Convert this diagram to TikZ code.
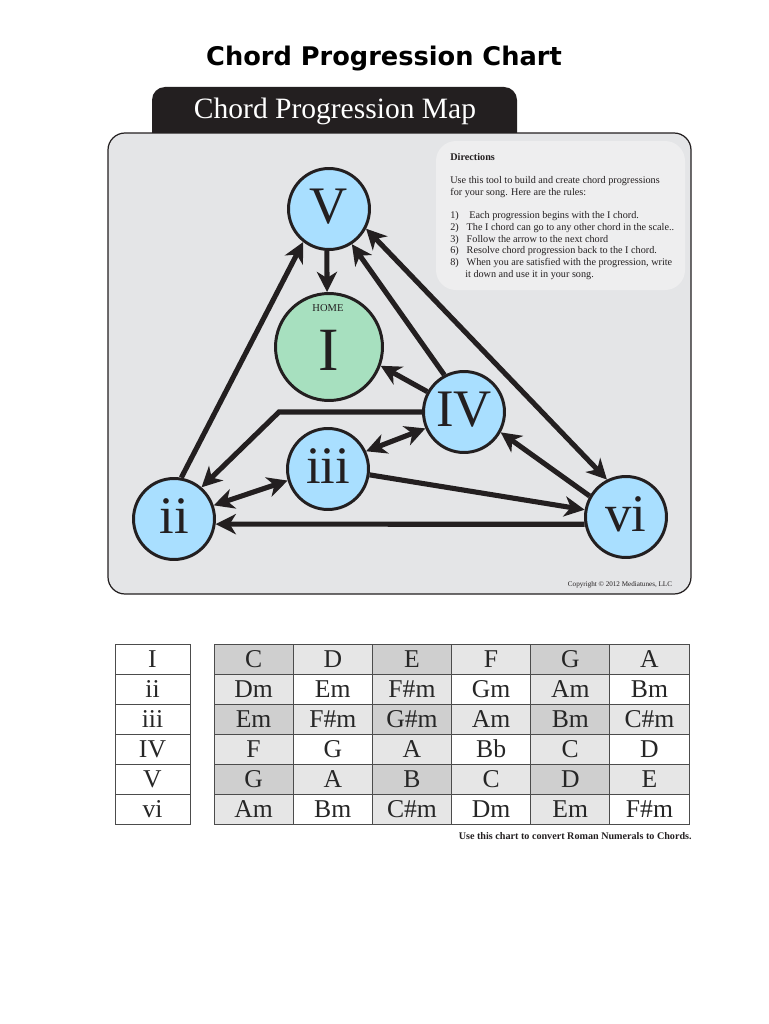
\documentclass[tikz,border=0pt]{standalone}
\usepackage{fontspec}
\setmainfont{Liberation Serif}
\newfontfamily\titlefont{DejaVu Sans}
\usetikzlibrary{arrows.meta}
\definecolor{panelgray}{HTML}{E4E5E7}
\definecolor{notegray}{HTML}{EEEEEF}
\definecolor{inkblack}{HTML}{231F20}
\definecolor{chordblue}{HTML}{A9DFFF}
\definecolor{homegreen}{HTML}{A7E0BF}
\definecolor{cdark}{HTML}{CFCFCF}
\definecolor{clight}{HTML}{E6E6E6}
\definecolor{cwhite}{HTML}{FFFFFF}
\tikzset{
  chord/.style={circle, draw=inkblack, line width=1.7pt, fill=chordblue, minimum size=1.62cm, inner sep=0pt, text=inkblack, text height=17pt, text depth=0pt, font=\fontsize{30}{30}\selectfont},
  prog/.style={draw=inkblack, line width=2.9pt, -{Stealth[length=11.5pt,width=11.5pt,inset=3.5pt]}},
  both/.style={draw=inkblack, line width=2.9pt, {Stealth[length=11.5pt,width=11.5pt,inset=3.5pt]}-{Stealth[length=11.5pt,width=11.5pt,inset=3.5pt]}},
  cell/.style={draw=black!70, line width=0.55pt, minimum width=1.583cm, minimum height=0.6cm, inner sep=0pt, text=black!85, font=\fontsize{14.6}{14.6}\selectfont},
  numeral/.style={cell, minimum width=1.5cm}
}
\begin{document}
\begin{tikzpicture}[x=0.02cm, y=-0.02cm]
  \useasboundingbox (0,0) rectangle (768,1024);

  \node[font=\titlefont\bfseries\fontsize{14.6}{14.6}\selectfont] (title) at (384,59) {Chord Progression Chart};

  % map header and panel
  \fill[inkblack, rounded corners=0.26cm] (152,160) -- (152,87) -- (517,87) -- (517,160) -- cycle;
  \node[text=white, font=\fontsize{16.8}{16.8}\selectfont] (maptitle) at (335,111) {Chord Progression Map};
  \draw[inkblack, line width=0.7pt, fill=panelgray, rounded corners=0.34cm] (108,133) rectangle (691,594);
  \fill[notegray, rounded corners=0.4cm] (436,141) rectangle (685,290);

  \node[anchor=north west, align=left, inner sep=0pt, text=inkblack, font=\fontsize{5.8}{6.65}\selectfont] (directions) at (450,153) {%
    \textbf{Directions}\\[6.65pt]
    Use this tool to build and create chord progressions\\
    for your song.  Here are the rules:\\[6.65pt]
    1)\hspace{6pt}Each progression begins with the I chord.\\
    2)\hspace{4.5pt}The I chord can go to any other chord in the scale..\\
    3)\hspace{4.5pt}Follow the arrow to the next chord\\
    6)\hspace{4.5pt}Resolve chord progression back to the I chord.\\
    8)\hspace{4.5pt}When you are satisfied with the progression, write\\
    \hspace{8.5pt}it down and use it in your song.};
  \node[text=inkblack, font=\fontsize{4.05}{4}\selectfont] (copyright) at (620,585) {Copyright © 2012 Mediatunes, LLC};

  % chords
  \node[chord] (V) at (329,209) {V};
  \node[chord, fill=homegreen, minimum size=2.14cm, text height=27.2pt, font=\fontsize{35}{35}\selectfont] (I) at (329,347) {I};
  \node[chord] (IV) at (464,412) {IV};
  \node[chord] (iii) at (328,469) {iii};
  \node[chord] (ii) at (174,519) {ii};
  \node[chord] (vi) at (626,517) {vi};
  \node[text=inkblack, font=\fontsize{6}{6}\selectfont] (home) at (328,308) {HOME};
  \coordinate (bend) at (279,412);

  \draw[prog] (ii.80) -- (V.232);
  \draw[prog] (V.-93) -- (I.92);
  \draw[prog] (IV.151) -- (I.-20);
  \draw[prog] (IV.118) -- (V.-57);
  \draw[both] (vi.117) -- (V.-28);
  \draw[prog] (IV.west) -- (bend) -- (ii.49);
  \draw[both] (iii.196) -- (ii.19);
  \draw[both] (iii.25) -- (IV.203);
  \draw[prog] (iii.-8) -- (vi.170);
  \draw[prog] (vi.150) -- (IV.-29);
  \draw[prog] (vi.190) -- (ii.-7);

  % numerals
  \foreach \lab [count=\r from 0] in {I,ii,iii,IV,V,vi} {
    \node[numeral] (n\r) at (152.5,{659+30*\r}) {\lab};
  }

  % chord table
  \foreach \r/\cells in {
    0/{C/cdark,D/clight,E/cdark,F/clight,G/cdark,A/clight},
    1/{Dm/clight,Em/cwhite,F\#m/clight,Gm/cwhite,Am/clight,Bm/cwhite},
    2/{Em/cdark,F\#m/clight,G\#m/cdark,Am/clight,Bm/cdark,C\#m/clight},
    3/{F/clight,G/cwhite,A/clight,Bb/cwhite,C/clight,D/cwhite},
    4/{G/cdark,A/clight,B/cdark,C/clight,D/cdark,E/clight},
    5/{Am/clight,Bm/cwhite,C\#m/clight,Dm/cwhite,Em/clight,F\#m/cwhite}} {
    \foreach \lab/\shade [count=\c from 0] in \cells {
      \node[cell, fill=\shade] (c\r\c) at ({253.6+79.17*\c},{659+30*\r}) {\lab};
    }
  }
  \node[anchor=east, inner sep=0pt, text=inkblack, font=\bfseries\fontsize{5.77}{5.77}\selectfont] (caption) at (692,836) {Use this chart to convert Roman Numerals to Chords.};
\end{tikzpicture}
\end{document}
